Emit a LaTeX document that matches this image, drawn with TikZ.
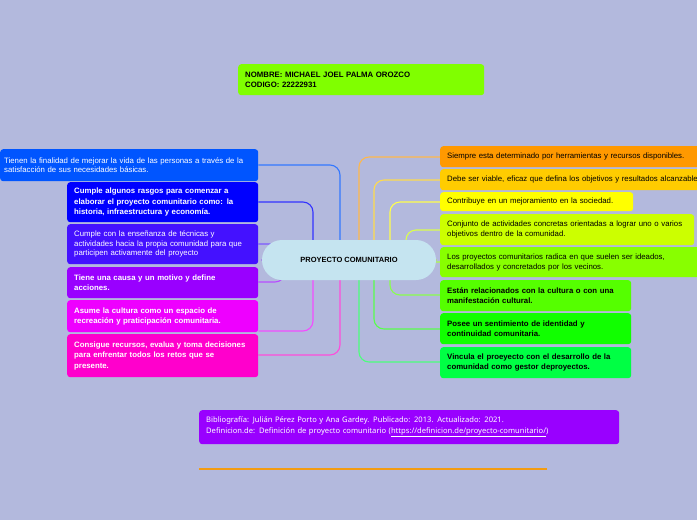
\documentclass[tikz,border=0pt]{standalone}
\usepackage{fontspec}
\setmainfont{Liberation Sans}
\newfontfamily\noto{Noto Sans}
\usetikzlibrary{backgrounds}
\definecolor{bg}{HTML}{B3B9DD}
\definecolor{cTop}{HTML}{80FF00}
\definecolor{cCen}{HTML}{C5E4F0}
\definecolor{cLa}{HTML}{0055FF}
\definecolor{cLb}{HTML}{0000FF}
\definecolor{cLc}{HTML}{4411FF}
\definecolor{cLd}{HTML}{9900FF}
\definecolor{cLe}{HTML}{EE00FF}
\definecolor{cLf}{HTML}{FF00CC}
\definecolor{cRa}{HTML}{FF9900}
\definecolor{cRb}{HTML}{FFCC00}
\definecolor{cRc}{HTML}{FFFF00}
\definecolor{cRd}{HTML}{CCFF00}
\definecolor{cRe}{HTML}{88FF00}
\definecolor{cRf}{HTML}{55FF00}
\definecolor{cRg}{HTML}{11FF00}
\definecolor{cRh}{HTML}{00FF44}
\definecolor{cBib}{HTML}{9900FF}
\definecolor{cLine}{HTML}{F39C12}
\hyphenpenalty=10000
\exhyphenpenalty=10000
\begin{document}
\begin{tikzpicture}[x=1pt,y=-1pt,
 box/.style={anchor=north west,rounded corners=3pt,inner xsep=7pt,inner ysep=0pt,align=left,font=\fontsize{7.8}{9.6}\selectfont},
 bf/.style={font=\fontsize{7.8}{10.4}\selectfont\bfseries},
 conn/.style={line width=1.1pt,rounded corners=10pt}]
\useasboundingbox (0,0) rectangle (697,520);
% top
\node[box,bf,fill=cTop,text width=232pt,minimum height=31pt] (top) at (238,64) {NOMBRE: MICHAEL JOEL PALMA OROZCO\\CODIGO: 22222931};
% center
\node[fill=cCen,rounded corners=20pt,minimum width=174pt,minimum height=40pt,font=\fontsize{7.5}{9}\selectfont\bfseries] (cen) at (349,260) {PROYECTO COMUNITARIO};
% left
\node[box,fill=cLa,text=white,text width=250pt,minimum height=32pt,inner xsep=4pt] (la) at (0,149) {Tienen la finalidad de mejorar la vida de las personas a través de la satisfacción de sus necesidades básicas.};
\node[box,bf,fill=cLb,text=white,text width=177pt,minimum height=40pt] (lb) at (67,182) {Cumple algunos rasgos para comenzar a elaborar el proyecto comunitario como: la historia, infraestructura y economía.};
\node[box,fill=cLc,text=white,text width=177pt,minimum height=40pt] (lc) at (67,224) {Cumple con la enseñanza de técnicas y actividades hacia la propia comunidad para que participen activamente del proyecto};
\node[box,bf,fill=cLd,text=white,text width=177pt,minimum height=31pt] (ld) at (67,267) {Tiene una causa y un motivo y define acciones.};
\node[box,bf,fill=cLe,text=white,text width=177pt,minimum height=32pt] (le) at (67,300) {Asume la cultura como un espacio de recreación y praticipación comunitaria.};
\node[box,bf,fill=cLf,text=white,text width=177pt,minimum height=43pt] (lf) at (67,334) {Consigue recursos, evalua y toma decisiones para enfrentar todos los retos que se presente.};
% right
\node[box,fill=cRa,text width=320pt,minimum height=21pt] (ra) at (440,146) {Siempre esta determinado por herramientas y recursos disponibles.};
\node[box,fill=cRb,text width=320pt,minimum height=21pt] (rb) at (440,169) {Debe ser viable, eficaz que defina los objetivos y resultados alcanzables.};
\node[box,fill=cRc,text width=179pt,minimum height=19pt] (rc) at (440,192) {Contribuye en un mejoramiento en la sociedad.};
\node[box,fill=cRd,text width=240pt,minimum height=31pt] (rd) at (440,214) {Conjunto de actividades concretas orientadas a lograr uno o varios objetivos dentro de la comunidad.};
\node[box,fill=cRe,text width=260pt,minimum height=30pt] (re) at (440,247) {Los proyectos comunitarios radica en que suelen ser ideados, desarrollados y concretados por los vecinos.};
\node[box,bf,fill=cRf,text width=177pt,minimum height=31pt] (rf) at (440,280) {Están relacionados con la cultura o con una manifestación cultural.};
\node[box,bf,fill=cRg,text width=177pt,minimum height=31pt] (rg) at (440,313) {Posee un sentimiento de identidad y continuidad comunitaria.};
\node[box,bf,fill=cRh,text width=177pt,minimum height=31pt] (rh) at (440,347) {Vincula el proeyecto con el desarrollo de la comunidad como gestor deproyectos.};
% bibliography
\node[box,fill=cBib,text=white,text width=406pt,minimum height=34pt,font=\noto\fontsize{7.6}{10.5}\selectfont] (bib) at (199,410) {\textbf{Bibliografía:} Julián Pérez Porto y Ana Gardey. Publicado: 2013. Actualizado: 2021.\\Definicion.de: Definición de proyecto comunitario (\underline{https://definicion.de/proyecto-comunitario/})};
\coordinate (l1) at (199,469); \coordinate (l2) at (547,469);
\draw[cLine,line width=1.3pt] (l1) -- (l2);
% connectors
\begin{scope}[on background layer]
\fill[bg] (0,0) rectangle (697,520);
\draw[conn,cLa!80!white] (la.east|-0,165) -- (340,165) -- (340,260) -- (cen);
\draw[conn,cLf!70!white] (lf.east|-0,355) -- (340,355) -- (340,260) -- (cen);
\draw[conn,cLb!80!white] (lb.east|-0,202) -- (313,202) -- (313,260) -- (cen);
\draw[conn,cLe!70!white] (le.east|-0,331) -- (313,331) -- (313,260) -- (cen);
\draw[conn,cLc!70!white] (lc.east|-0,244) -- (285,244) -- (285,260) -- (cen);
\draw[conn,cLd!70!white] (ld.east|-0,282) -- (285,282) -- (285,260) -- (cen);
\draw[conn,cRa!70!white] (ra.west|-0,157) -- (359,157) -- (359,260) -- (cen);
\draw[conn,cRh!70!white] (rh.west|-0,362) -- (359,362) -- (359,260) -- (cen);
\draw[conn,cRb!70!white] (rb.west|-0,180) -- (374,180) -- (374,260) -- (cen);
\draw[conn,cRg!70!white] (rg.west|-0,329) -- (374,329) -- (374,260) -- (cen);
\draw[conn,cRc!70!white] (rc.west|-0,202) -- (390,202) -- (390,260) -- (cen);
\draw[conn,cRf!70!white] (rf.west|-0,295) -- (390,295) -- (390,260) -- (cen);
\draw[conn,cRd!70!white] (rd.west|-0,230) -- (406,230) -- (406,260) -- (cen);
\draw[conn,cRe!70!white] (re.west|-0,262) -- (406,262) -- (406,260) -- (cen);
\end{scope}
\end{tikzpicture}
\end{document}
